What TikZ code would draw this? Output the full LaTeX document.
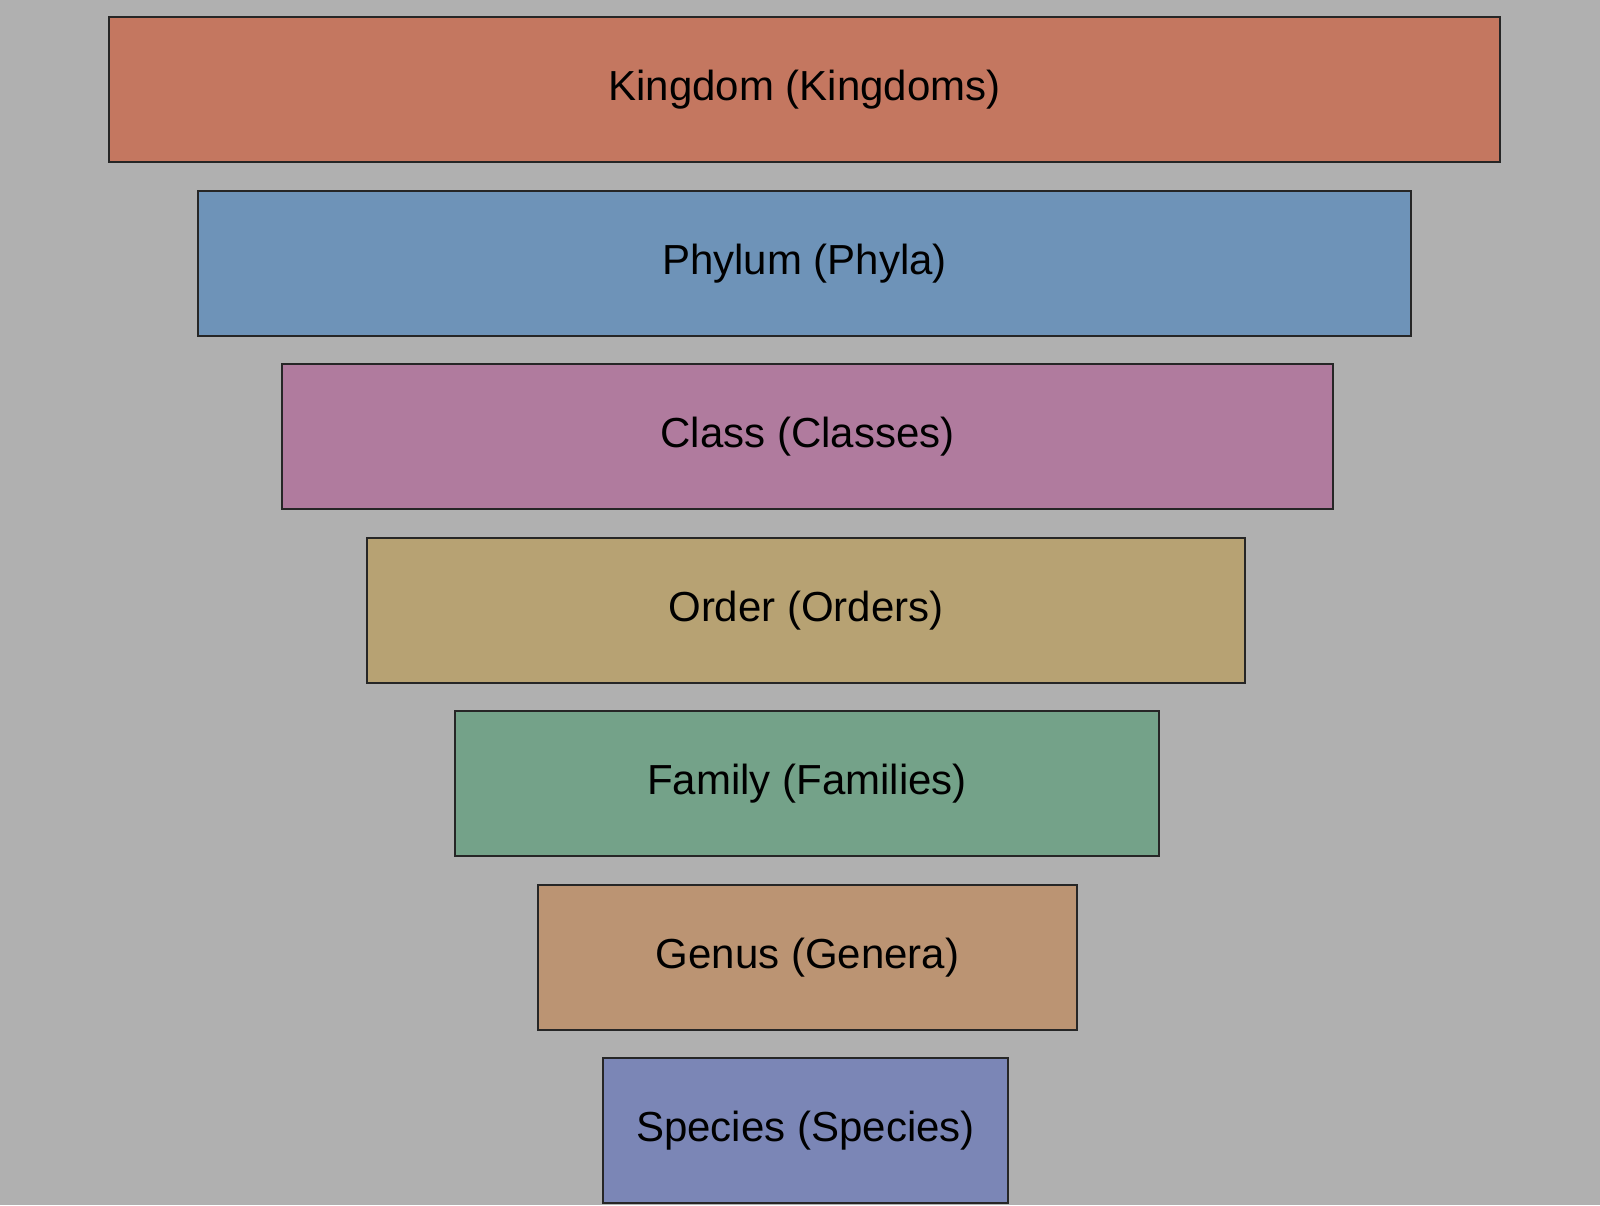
\documentclass[tikz,border=0pt]{standalone}
\usepackage{fontspec}
\setmainfont{Liberation Sans}
\begin{document}
\begin{tikzpicture}[x=1pt,y=-1pt,
  tier/.style={draw=black!85,line width=2.6pt,inner sep=0pt,font=\fontsize{42}{50}\selectfont}]
\fill[fill={rgb,255:red,176;green,176;blue,176}] (0,0) rectangle (1600,1205);
\useasboundingbox (0,0) rectangle (1600,1205);
\definecolor{ck}{HTML}{C47760}
\definecolor{cp}{HTML}{6E93B8}
\definecolor{cc}{HTML}{B07B9E}
\definecolor{co}{HTML}{B7A273}
\definecolor{cf}{HTML}{74A289}
\definecolor{cg}{HTML}{BB9473}
\definecolor{cs}{HTML}{7B86B6}
\newcommand{\tierbox}[7]{%
  \draw[tier,fill=#6] (#2,#3) rectangle (#4,#5);
  \node[font=\fontsize{42}{50}\selectfont] (#1) at ({(#2+#4)/2},{(#3+#5)/2}) {#7};}
\tierbox{kingdom}{109}{17}{1500}{162}{ck}{Kingdom (Kingdoms)}
\tierbox{phylum}{198}{191}{1411}{336}{cp}{Phylum (Phyla)}
\tierbox{class}{282}{364}{1333}{509}{cc}{Class (Classes)}
\tierbox{order}{367}{538}{1245}{683}{co}{Order (Orders)}
\tierbox{family}{455}{711}{1159}{856}{cf}{Family (Families)}
\tierbox{genus}{538}{885}{1077}{1030}{cg}{Genus (Genera)}
\tierbox{species}{603}{1058}{1008}{1203}{cs}{Species (Species)}
\end{tikzpicture}
\end{document}
